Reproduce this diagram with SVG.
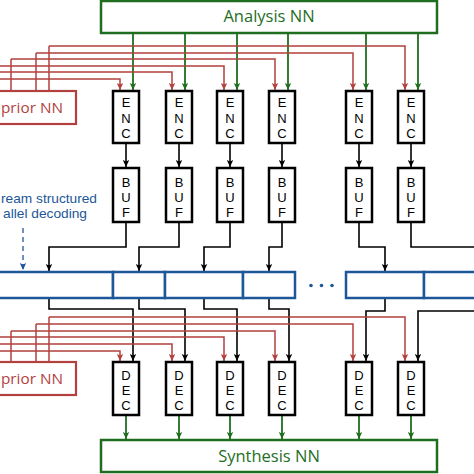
<svg xmlns="http://www.w3.org/2000/svg" width="474" height="474" viewBox="0 0 474 474">
<defs>
<marker id="ab" markerUnits="userSpaceOnUse" markerWidth="8" markerHeight="8" viewBox="0 0 8 8" refX="7" refY="4" orient="auto"><path d="M0,0.8 L7,4 L0,7.2 L1.5,4 Z" fill="#000"/></marker>
<marker id="ag" markerUnits="userSpaceOnUse" markerWidth="8" markerHeight="8" viewBox="0 0 8 8" refX="7" refY="4" orient="auto"><path d="M0,0.8 L7,4 L0,7.2 L1.5,4 Z" fill="#1f6e1f"/></marker>
<marker id="ar" markerUnits="userSpaceOnUse" markerWidth="8" markerHeight="8" viewBox="0 0 8 8" refX="7" refY="4" orient="auto"><path d="M0,0.8 L7,4 L0,7.2 L1.5,4 Z" fill="#b2403e"/></marker>
<marker id="au" markerUnits="userSpaceOnUse" markerWidth="8" markerHeight="8" viewBox="0 0 8 8" refX="7" refY="4" orient="auto"><path d="M0,0.8 L7,4 L0,7.2 L1.5,4 Z" fill="#1d5799"/></marker>
</defs>
<style>
.gbox{fill:#fff;stroke:#1f6e1f;stroke-width:2.5}
.rbox{fill:#fff;stroke:#b2403e;stroke-width:2.2}
.kbox{fill:#fff;stroke:#000;stroke-width:2.5}
.ubox{fill:#fff;stroke:#1d5799;stroke-width:2.5}
.gt{fill:#1f6e1f;font-family:"Open Sans","DejaVu Sans",sans-serif;font-size:16.5px;text-anchor:middle}
.rt{fill:#b2403e;font-family:"Open Sans","DejaVu Sans",sans-serif;font-size:15.3px}
.kt{fill:#000;font-family:"Liberation Sans",Arial,sans-serif;font-size:13px;text-anchor:middle}
.ut{fill:#1d5799;font-family:"Liberation Sans",Arial,sans-serif;font-size:13px}
.cg{fill:none;stroke:#1f6e1f;stroke-width:1.8;marker-end:url(#ag)}
.cr{fill:none;stroke:#b2403e;stroke-width:1.5}
.cra{fill:none;stroke:#b2403e;stroke-width:1.5;marker-end:url(#ar)}
.ck{fill:none;stroke:#000;stroke-width:1.6;marker-end:url(#ab)}
.ckn{fill:none;stroke:#000;stroke-width:1.6}
</style>

<g id="connectors">
<path class="cg" d="M133,34 V90"/>
<path class="cg" d="M185,34 V90"/>
<path class="cg" d="M237,34 V90"/>
<path class="cg" d="M288,34 V90"/>
<path class="cg" d="M366,34 V90"/>
<path class="cg" d="M418,34 V90"/>
<path class="cr" d="M11,90 V59"/>
<path class="cr" d="M36,90 V53"/>
<path class="cr" d="M49,90 V46"/>
<path class="cra" d="M49,46 H405 V90"/>
<path class="cra" d="M36,53 H353 V90"/>
<path class="cra" d="M11,59 H275 V90"/>
<path class="cra" d="M0,66 H224 V90"/>
<path class="cra" d="M0,72 H172 V90"/>
<path class="cra" d="M0,79 H120 V90"/>
<path class="ck" d="M126,144 V167"/>
<path class="ck" d="M179,144 V167"/>
<path class="ck" d="M230,144 V167"/>
<path class="ck" d="M282,144 V167"/>
<path class="ck" d="M359,144 V167"/>
<path class="ck" d="M411,144 V167"/>
<path class="ck" d="M126,223 V247 H49 V271"/>
<path class="ck" d="M179,223 V247 H139 V271"/>
<path class="ck" d="M230,223 V247 H204 V271"/>
<path class="ck" d="M282,223 V247 H269 V271"/>
<path class="ck" d="M359,223 V247 H385 V271"/>
<path class="ckn" d="M411,223 V247 H476"/>
<path d="M23,228 V270" fill="none" stroke="#1d5799" stroke-width="1.3" stroke-dasharray="5,4" marker-end="url(#au)"/>
<path class="ck" d="M49,299 V309 H133 V361"/>
<path class="ck" d="M139,299 V309 H185 V361"/>
<path class="ck" d="M204,299 V309 H237 V361"/>
<path class="ck" d="M269,299 V309 H289 V361"/>
<path class="ck" d="M385,299 V311 H366 V361"/>
<path class="ck" d="M476,311 H418 V361"/>
<path class="cr" d="M11,361 V331"/>
<path class="cr" d="M36,361 V324"/>
<path class="cr" d="M49,361 V317"/>
<path class="cra" d="M49,317 H405 V361"/>
<path class="cra" d="M36,324 H353 V361"/>
<path class="cra" d="M11,331 H275 V361"/>
<path class="cra" d="M0,337 H224 V361"/>
<path class="cra" d="M0,344 H172 V361"/>
<path class="cra" d="M0,351 H120 V361"/>
<path class="cg" d="M126,416 V439"/>
<path class="cg" d="M179,416 V439"/>
<path class="cg" d="M230,416 V439"/>
<path class="cg" d="M282,416 V439"/>
<path class="cg" d="M359,416 V439"/>
<path class="cg" d="M411,416 V439"/>
</g>

<g id="analysis"><rect class="gbox" x="101" y="1" width="336" height="32"/><text class="gt" x="269" y="22">Analysis NN</text></g>
<g id="synthesis"><rect class="gbox" x="101" y="440" width="336" height="32"/><text class="gt" x="269" y="462">Synthesis NN</text></g>
<g id="hyperprior-enc"><rect class="rbox" x="-10" y="91" width="86" height="33"/><text class="rt" x="1" y="113">prior NN</text></g>
<g id="hyperprior-dec"><rect class="rbox" x="-10" y="362" width="86" height="33"/><text class="rt" x="1" y="384">prior NN</text></g>

<g id="enc1"><rect class="kbox" x="113" y="91" width="26" height="52"/><text class="kt" x="126" y="107">E</text><text class="kt" x="126" y="122.5">N</text><text class="kt" x="126" y="138">C</text></g>
<g id="enc2"><rect class="kbox" x="166" y="91" width="26" height="52"/><text class="kt" x="179" y="107">E</text><text class="kt" x="179" y="122.5">N</text><text class="kt" x="179" y="138">C</text></g>
<g id="enc3"><rect class="kbox" x="217" y="91" width="26" height="52"/><text class="kt" x="230" y="107">E</text><text class="kt" x="230" y="122.5">N</text><text class="kt" x="230" y="138">C</text></g>
<g id="enc4"><rect class="kbox" x="269" y="91" width="26" height="52"/><text class="kt" x="282" y="107">E</text><text class="kt" x="282" y="122.5">N</text><text class="kt" x="282" y="138">C</text></g>
<g id="enc5"><rect class="kbox" x="346" y="91" width="26" height="52"/><text class="kt" x="359" y="107">E</text><text class="kt" x="359" y="122.5">N</text><text class="kt" x="359" y="138">C</text></g>
<g id="enc6"><rect class="kbox" x="398" y="91" width="26" height="52"/><text class="kt" x="411" y="107">E</text><text class="kt" x="411" y="122.5">N</text><text class="kt" x="411" y="138">C</text></g>

<g id="buf1"><rect class="kbox" x="113" y="168" width="26" height="54"/><text class="kt" x="126" y="187">B</text><text class="kt" x="126" y="202">U</text><text class="kt" x="126" y="217">F</text></g>
<g id="buf2"><rect class="kbox" x="166" y="168" width="26" height="54"/><text class="kt" x="179" y="187">B</text><text class="kt" x="179" y="202">U</text><text class="kt" x="179" y="217">F</text></g>
<g id="buf3"><rect class="kbox" x="217" y="168" width="26" height="54"/><text class="kt" x="230" y="187">B</text><text class="kt" x="230" y="202">U</text><text class="kt" x="230" y="217">F</text></g>
<g id="buf4"><rect class="kbox" x="269" y="168" width="26" height="54"/><text class="kt" x="282" y="187">B</text><text class="kt" x="282" y="202">U</text><text class="kt" x="282" y="217">F</text></g>
<g id="buf5"><rect class="kbox" x="346" y="168" width="26" height="54"/><text class="kt" x="359" y="187">B</text><text class="kt" x="359" y="202">U</text><text class="kt" x="359" y="217">F</text></g>
<g id="buf6"><rect class="kbox" x="398" y="168" width="26" height="54"/><text class="kt" x="411" y="187">B</text><text class="kt" x="411" y="202">U</text><text class="kt" x="411" y="217">F</text></g>

<g id="dec1"><rect class="kbox" x="113" y="362" width="26" height="53"/><text class="kt" x="126" y="380">D</text><text class="kt" x="126" y="395">E</text><text class="kt" x="126" y="410">C</text></g>
<g id="dec2"><rect class="kbox" x="166" y="362" width="26" height="53"/><text class="kt" x="179" y="380">D</text><text class="kt" x="179" y="395">E</text><text class="kt" x="179" y="410">C</text></g>
<g id="dec3"><rect class="kbox" x="217" y="362" width="26" height="53"/><text class="kt" x="230" y="380">D</text><text class="kt" x="230" y="395">E</text><text class="kt" x="230" y="410">C</text></g>
<g id="dec4"><rect class="kbox" x="269" y="362" width="26" height="53"/><text class="kt" x="282" y="380">D</text><text class="kt" x="282" y="395">E</text><text class="kt" x="282" y="410">C</text></g>
<g id="dec5"><rect class="kbox" x="346" y="362" width="26" height="53"/><text class="kt" x="359" y="380">D</text><text class="kt" x="359" y="395">E</text><text class="kt" x="359" y="410">C</text></g>
<g id="dec6"><rect class="kbox" x="398" y="362" width="26" height="53"/><text class="kt" x="411" y="380">D</text><text class="kt" x="411" y="395">E</text><text class="kt" x="411" y="410">C</text></g>

<g id="bitstream">
<rect class="ubox" x="-10" y="272" width="123" height="26"/>
<rect class="ubox" x="113" y="272" width="52" height="26"/>
<rect class="ubox" x="165" y="272" width="78" height="26"/>
<rect class="ubox" x="243" y="272" width="52" height="26"/>
<rect class="ubox" x="346" y="272" width="78" height="26"/>
<rect class="ubox" x="424" y="272" width="60" height="26"/>
<circle cx="311" cy="285.5" r="1.8" fill="#1d5799"/>
<circle cx="321.5" cy="285.5" r="1.8" fill="#1d5799"/>
<circle cx="332" cy="285.5" r="1.8" fill="#1d5799"/>
</g>

<g id="bitstream-label">
<text class="ut" x="1" y="203" textLength="96" lengthAdjust="spacingAndGlyphs">ream structured</text>
<text class="ut" x="3" y="218" textLength="84" lengthAdjust="spacingAndGlyphs">allel decoding</text>
</g>
</svg>
